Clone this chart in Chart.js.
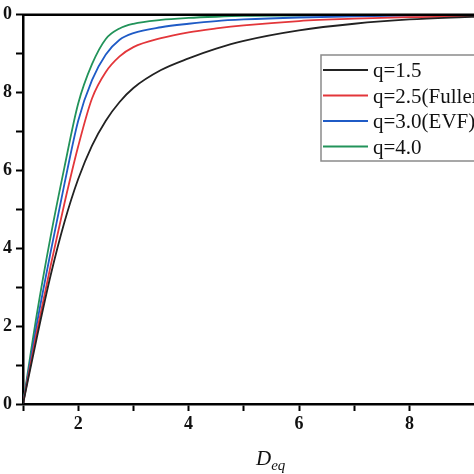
<!DOCTYPE html>
<html>
<head>
<meta charset="utf-8">
<script src="https://cdn.jsdelivr.net/npm/chart.js@4/dist/chart.umd.min.js"></script>
<style>
  html, body { margin: 0; padding: 0; background: #fff; }
  #wrap { width: 474px; height: 474px; }
</style>
</head>
<body>
<div id="wrap"><canvas id="myChart" width="474" height="474"></canvas></div>
<script>
// data
const xs = [1, 1.25, 1.5, 1.75, 2, 2.25, 2.5, 2.75, 3, 3.5, 4, 4.5, 5, 6, 7, 8, 9, 9.2];
const q15 = [0, 0.17, 0.33, 0.467, 0.578, 0.664, 0.728, 0.776, 0.812, 0.858, 0.888, 0.913, 0.933, 0.96, 0.977, 0.988, 0.994, 0.995];
const q25 = [0, 0.185, 0.355, 0.515, 0.662, 0.785, 0.853, 0.893, 0.917, 0.94, 0.955, 0.965, 0.973, 0.984, 0.99, 0.994, 0.996, 0.997];
const q30 = [0, 0.205, 0.39, 0.565, 0.728, 0.832, 0.898, 0.936, 0.953, 0.968, 0.977, 0.984, 0.988, 0.993, 0.996, 0.998, 0.999, 0.999];
const q40 = [0, 0.23, 0.43, 0.608, 0.772, 0.873, 0.938, 0.965, 0.977, 0.987, 0.992, 0.995, 0.997, 0.998, 0.999, 0.999, 1.0, 1.0];
const seriesLabels = ["q=1.5", "q=2.5(Fuller)", "q=3.0(EVF)", "q=4.0"];
const seriesColors = ["#222222", "#e3363a", "#1f5bc6", "#22935a"];
const xTitle = "D";
const xTitleSub = "eq";

const ctx = document.getElementById("myChart");
const serif = "'Liberation Serif', 'DejaVu Serif', serif";

function toPoints(ys) {
  return xs.map((x, i) => ({ x: x, y: ys[i] }));
}

// legend box + top frame + axis title drawn by hand
const extras = {
  id: "extras",
  afterDraw(chart) {
    const c = chart.ctx;
    const area = chart.chartArea;
    c.save();
    // top frame line
    c.strokeStyle = "#000";
    c.lineWidth = 2.5;
    c.beginPath();
    c.moveTo(area.left - 1, area.top);
    c.lineTo(area.right + 2, area.top);
    c.stroke();

    // legend
    c.fillStyle = "#fff";
    c.fillRect(321, 55, 170, 106);
    c.strokeStyle = "#8a8a8a";
    c.lineWidth = 1.5;
    c.strokeRect(321, 55, 170, 106);
    c.font = "21px " + serif;
    c.textBaseline = "alphabetic";
    chart.data.datasets.forEach((ds, i) => {
      const y = 70 + i * 25.5;
      c.strokeStyle = ds.borderColor;
      c.lineWidth = 2;
      c.beginPath();
      c.moveTo(323, y);
      c.lineTo(368, y);
      c.stroke();
      c.fillStyle = "#111";
      c.fillText(ds.label, 373, y + 7);
    });

    // x axis title with subscript
    c.fillStyle = "#111";
    c.font = "italic 21px " + serif;
    c.fillText(xTitle, 256, 465);
    const w = c.measureText(xTitle).width;
    c.font = "italic 15px " + serif;
    c.fillText(xTitleSub, 256 + w, 470);
    c.restore();
  }
};

function keepSteps(scale) {
  scale.ticks = scale.ticks.filter(t => Math.abs(t.value * 10 - Math.round(t.value * 10)) < 1e-6);
}

new Chart(ctx, {
  type: "line",
  data: {
    datasets: [q15, q25, q30, q40].map((ys, i) => ({
      label: seriesLabels[i],
      data: toPoints(ys),
      borderColor: seriesColors[i],
      borderWidth: 1.8,
      pointRadius: 0,
      cubicInterpolationMode: "monotone",
      fill: false
    }))
  },
  options: {
    responsive: false,
    animation: false,
    layout: { padding: { top: 6, right: 0, left: 0, bottom: 0 } },
    plugins: { legend: { display: false }, tooltip: { enabled: false } },
    scales: {
      x: {
        type: "linear",
        min: 1,
        max: 9.17,
        afterBuildTicks: keepSteps,
        afterFit(scale) { scale.height = 70; },
        border: { color: "#000", width: 2.5 },
        grid: { drawOnChartArea: false, tickLength: 7, tickColor: "#000", tickWidth: 2 },
        ticks: {
          stepSize: 1,
          autoSkip: false,
          maxRotation: 0,
          padding: 3,
          color: "#111",
          font: { family: serif, size: 18, weight: "bold" },
          callback: (v) => (Math.round(v) % 2 === 0 ? String(Math.round(v)) : "")
        }
      },
      y: {
        min: 0,
        max: 1,
        afterBuildTicks: keepSteps,
        afterFit(scale) { scale.width = 23; },
        border: { color: "#000", width: 2.5 },
        grid: { drawOnChartArea: false, tickLength: 7, tickColor: "#000", tickWidth: 2 },
        ticks: {
          stepSize: 0.1,
          autoSkip: false,
          padding: 4,
          color: "#111",
          font: { family: serif, size: 18, weight: "bold" },
          // the reference is cropped: only the last digit of each label shows
          callback: (v) => (Math.round(v * 10) % 2 === 0 ? v.toFixed(1).slice(-1) : "")
        }
      }
    }
  },
  plugins: [extras]
});
</script>
</body>
</html>
